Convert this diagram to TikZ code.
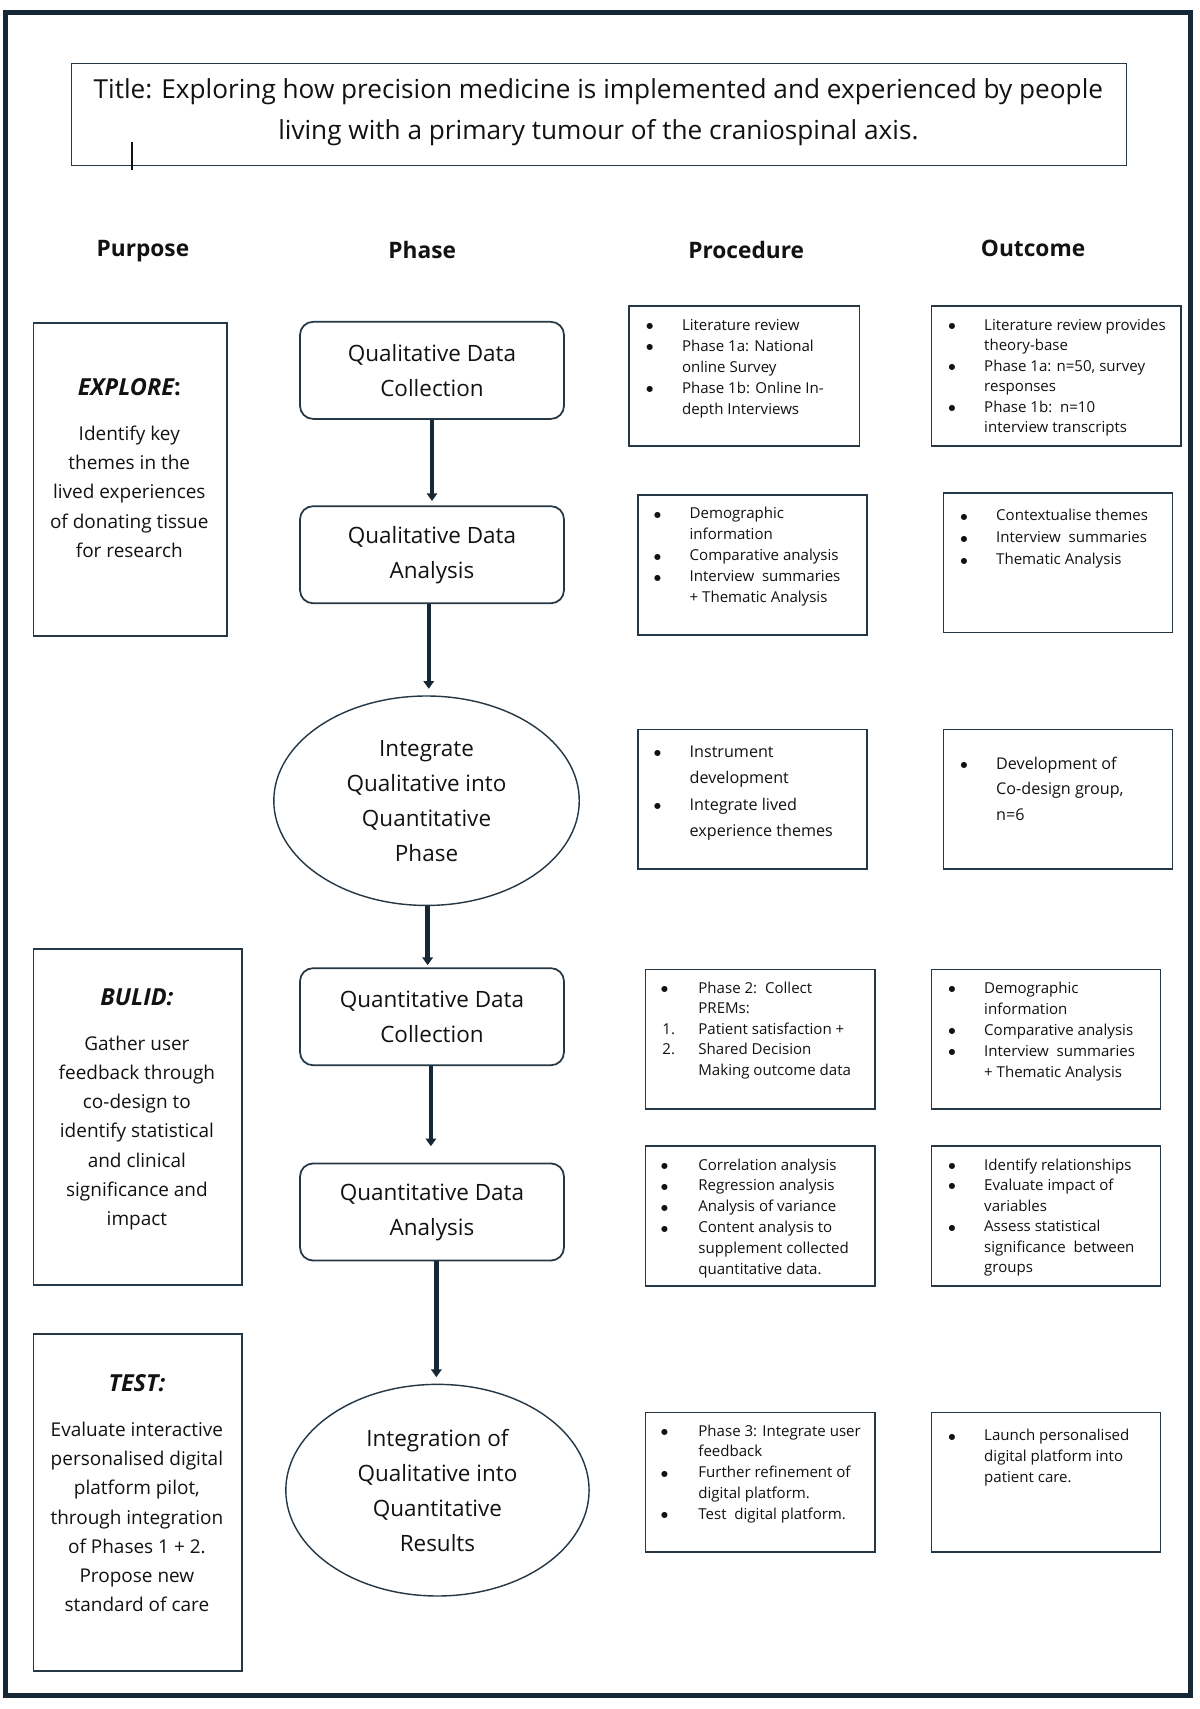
\documentclass[tikz,border=0pt]{standalone}
\usepackage{fontspec}
\setmainfont{Open Sans}
\newfontfamily\symfont{DejaVu Sans}
\usetikzlibrary{shapes.geometric,arrows.meta,calc}
\definecolor{frame}{RGB}{22,40,54}
\definecolor{boxline}{RGB}{38,56,70}
\definecolor{ink}{RGB}{18,18,18}
\newcommand\ctab[1]{\begin{tabular}[t]{@{}c@{}}#1\end{tabular}}
\newcommand\ltab[1]{\begin{tabular}[t]{@{}l@{}}#1\end{tabular}}
\newcommand\bulglyph{\raisebox{1.4pt}{\symfont\fontsize{7.2}{7.2}\selectfont ●}}
\newcommand\mybul{\llap{\makebox[0pt]{\bulglyph}\hspace{29.5pt}}}
\newcommand\mybulw{\llap{\makebox[0pt]{\bulglyph}\hspace{31pt}}}
\newcommand\mynum[1]{\llap{\makebox[33pt][l]{#1}}}
\begin{document}
\begin{tikzpicture}[x=1pt,y=-1pt,
  every node/.style={text=ink},
  infobox/.style={draw=boxline, line width=1.6pt, inner sep=0pt, anchor=north west},
  phasebox/.style={draw=boxline, line width=1.6pt, rounded corners=12pt, minimum width=242pt, minimum height=89pt, align=center, font=\fontsize{20.6}{32}\selectfont, inner sep=0pt},
  phaseell/.style={draw=boxline, line width=1.3pt, ellipse, minimum width=280pt, minimum height=192pt, align=center, font=\fontsize{20.6}{32}\selectfont, inner sep=0pt},
  flow/.style={draw=frame, line width=4pt, -{Triangle[width=9.5pt,length=7pt]}},
  listnode/.style={anchor=base west, inner sep=0pt, font=\fontsize{13.8}{#1}\selectfont},
  biglist/.style={anchor=base west, inner sep=0pt, font=\fontsize{14.8}{#1}\selectfont},
  headtxt/.style={anchor=base, inner sep=0pt, font=\bfseries\fontsize{20.8}{24}\selectfont},
  purphead/.style={anchor=base, inner sep=0pt, font=\bfseries\itshape\fontsize{21.5}{24}\selectfont},
  purptxt/.style={anchor=base, inner sep=0pt, font=\fontsize{17.4}{26.7}\selectfont},
]
\path[use as bounding box, fill=white] (0,0) rectangle (1100,1566.6);
\draw[frame, line width=4.6pt] (5.3,11.5) rectangle (1091,1554.5);

% title
\node[infobox, line width=1.4pt, minimum width=967pt, minimum height=93.5pt] (titlebox) at (65,57.5) {};
\node[anchor=base, inner sep=0pt, font=\fontsize{24}{37}\selectfont] (title) at (548.5,90.5)
  {\ctab{Title: Exploring how precision medicine is implemented and experienced by people\\living with a primary tumour of the craniospinal axis.}};
\draw[line width=1pt, ink] (121,130) -- (121,156);

% headers
\node[headtxt] (hpurpose) at (131,235) {Purpose};
\node[headtxt] (hphase) at (387,237) {Phase};
\node[headtxt] (hproc) at (684,237) {Procedure};
\node[headtxt] (hout) at (947,235) {Outcome};

% purpose boxes
\node[infobox, minimum width=177pt, minimum height=287pt] (explorebox) at (30,295) {};
\node[purphead] (explorehead) at (118.5,362.5) {EXPLORE\upshape:};
\node[purptxt] (exploretxt) at (118.5,404) {\ctab{Identify key\\themes in the\\lived experiences\\of donating tissue\\for research}};

\node[infobox, minimum width=191pt, minimum height=308pt] (buildbox) at (30,869) {};
\node[purphead] (buildhead) at (125.5,921.5) {BULID:};
\node[purptxt] (buildtxt) at (125.5,963) {\ctab{Gather user\\feedback through\\co-design to\\identify statistical\\and clinical\\significance and\\impact}};

\node[infobox, minimum width=191pt, minimum height=309pt] (testbox) at (30,1222) {};
\node[purphead] (testhead) at (125.5,1275.5) {TEST:};
\node[purptxt] (testtxt) at (125.5,1317) {\ctab{Evaluate interactive\\personalised digital\\platform pilot,\\through integration\\of Phases 1 + 2.\\Propose new\\standard of care}};

% phases
\node[phasebox] (qdc) at (396,339.5) {Qualitative Data\\Collection};
\node[phasebox] (qda) at (396,508.5) {Qualitative Data\\Analysis};
\node[phaseell] (e1) at (391,734) {Integrate\\Qualitative into\\Quantitative\\Phase};
\node[phasebox] (qndc) at (396,932) {Quantitative Data\\Collection};
\node[phasebox] (qnda) at (396,1111) {Quantitative Data\\Analysis};
\node[phaseell, minimum width=278pt, minimum height=194pt] (e2) at (401,1366) {Integration of\\Qualitative into\\Quantitative\\Results};

\coordinate (a2) at ($(qda.south)+(-3,0)$);
\coordinate (a3) at ($(e1.south)+(1,0)$);
\coordinate (a4) at ($(qndc.south)+(-1,0)$);
\coordinate (a5) at ($(e2.north)+(-1,0)$);
\draw[flow, shorten >=4pt] (qdc.south) -- (qdc.south |- qda.north);
\draw[flow, shorten >=6pt] (a2) -- (a2 |- e1.north);
\draw[flow, shorten >=2pt] (a3) -- (a3 |- qndc.north);
\draw[flow, shorten >=15pt] (a4) -- (a4 |- qnda.north);
\draw[flow, shorten >=6pt] (a5 |- qnda.south) -- (a5);

% procedure boxes
\node[infobox, minimum width=211pt, minimum height=128pt] (p1box) at (576,280) {};
\node[listnode=19.25] (p1) at (625,302.5) {\ltab{\mybul Literature review\\\mybul Phase 1a: National\\online Survey\\\mybul Phase 1b: Online In-\\depth Interviews}};

\node[infobox, minimum width=210pt, minimum height=128pt] (p2box) at (584,453) {};
\node[listnode=19.25] (p2) at (632,475.5) {\ltab{\mybul Demographic\\information\\\mybul Comparative analysis\\\mybul Interview\ \ summaries\\+ Thematic Analysis}};

\node[infobox, minimum width=210pt, minimum height=128pt] (p3box) at (584,668) {};
\node[biglist=24.3] (p3) at (632,694) {\ltab{\mybul Instrument\\development\\\mybul Integrate lived\\experience themes}};

\node[infobox, minimum width=210pt, minimum height=128pt] (p4box) at (591,888) {};
\node[listnode=18.75] (p4) at (640,910.5) {\ltab{\mybulw Phase 2:\ \ Collect\\PREMs:\\\mynum{1.}Patient satisfaction +\\\mynum{2.}Shared Decision\\Making outcome data}};

\node[infobox, minimum width=210pt, minimum height=128pt] (p5box) at (591,1050) {};
\node[listnode=19.2] (p5) at (640,1072.5) {\ltab{\mybulw Correlation analysis\\\mybulw Regression analysis\\\mybulw Analysis of variance\\\mybulw Content analysis to\\supplement collected\\quantitative data.}};

\node[infobox, minimum width=210pt, minimum height=128pt] (p6box) at (591,1294) {};
\node[listnode=19] (p6) at (640,1316.5) {\ltab{\mybulw Phase 3: Integrate user\\feedback\\\mybulw Further refinement of\\digital platform.\\\mybulw Test\ \ digital platform.}};

% outcome boxes
\node[infobox, minimum width=229pt, minimum height=128pt] (o1box) at (853,280) {};
\node[listnode=18.8] (o1) at (902,302.5) {\ltab{\mybul Literature review provides\\theory-base\\\mybul Phase 1a: n=50, survey\\responses\\\mybul Phase 1b:\ \ n=10\\interview transcripts}};

\node[infobox, minimum width=210pt, minimum height=128pt] (o2box) at (864,451) {};
\node[listnode=20] (o2) at (913,477.5) {\ltab{\mybul Contextualise themes\\\mybul Interview\ \ summaries\\\mybul Thematic Analysis}};

\node[infobox, minimum width=210pt, minimum height=128pt] (o3box) at (864,668) {};
\node[biglist=23.5] (o3) at (913,705) {\ltab{\mybul Development of\\Co-design group,\\n=6}};

\node[infobox, minimum width=210pt, minimum height=128pt] (o4box) at (853,888) {};
\node[listnode=19.25] (o4) at (902,910.5) {\ltab{\mybul Demographic\\information\\\mybul Comparative analysis\\\mybul Interview\ \ summaries\\+ Thematic Analysis}};

\node[infobox, minimum width=210pt, minimum height=128pt] (o5box) at (853,1050) {};
\node[listnode=18.8] (o5) at (902,1072.5) {\ltab{\mybul Identify relationships\\\mybul Evaluate impact of\\variables\\\mybul Assess statistical\\significance\ \ between\\groups}};

\node[infobox, minimum width=210pt, minimum height=128pt] (o6box) at (853,1294) {};
\node[listnode=19] (o6) at (902,1320.5) {\ltab{\mybul Launch personalised\\digital platform into\\patient care.}};
\end{tikzpicture}
\end{document}
